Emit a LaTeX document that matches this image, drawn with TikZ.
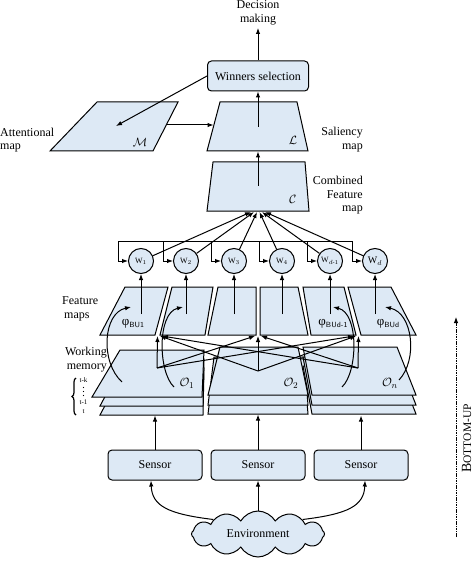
\documentclass[tikz,border=0pt]{standalone}
\usepackage{amsmath}
\usepackage{fontspec}
\setmainfont{Liberation Serif}
\usetikzlibrary{arrows.meta,shapes.symbols,decorations.pathreplacing}
\definecolor{fillblue}{RGB}{221,233,245}
\newcommand{\phisub}[1]{φ\raisebox{-0.35ex}{\textsf{\fontsize{7.5}{8}\selectfont #1}}}
\begin{document}
\begin{tikzpicture}[x=1pt,y=-1pt,
  shp/.style={draw=black,fill=fillblue,line width=1pt,line join=miter},
  arr/.style={-{Latex[length=6pt,width=4.5pt]},line width=1pt},
  ln/.style={line width=1pt},
  lbl/.style={font=\fontsize{12}{13.5}\selectfont,inner sep=0pt},
  rbox/.style={shp,rounded corners=4pt,minimum height=30pt,font=\fontsize{12}{14}\selectfont,inner sep=0pt},
  wc/.style={shp,circle,minimum size=25pt,inner sep=0pt,font=\fontsize{8}{9}\selectfont},
  small/.style={font=\fontsize{7}{8}\selectfont,inner sep=0pt},
]
\useasboundingbox (0,0) rectangle (474,561);

% ---------- top part ----------
\node[rbox,minimum width=101pt] (win) at (258,76) {Winners selection};
\node[lbl,align=center] (dec) at (258,13) {Decision\\making};
\coordinate (dectip) at (258,28);
\draw[arr] (win.north) -- (dectip);

% attentional map
\draw[shp] (97,102) -- (178,102) -- (153,151) -- (50,151) -- cycle;
\node[lbl] (Mlbl) at (140,142) {$\mathcal{M}$};
% saliency map
\draw[shp] (220,102) -- (297,102) -- (308,151) -- (207,151) -- cycle;
\node[lbl] (Llbl) at (293,140) {$\mathcal{L}$};
% combined feature map
\draw[shp] (213,162) -- (305,162) -- (309,211) -- (207,211) -- cycle;
\node[lbl] (Clbl) at (293,199) {$\mathcal{C}$};

\coordinate (Lin) at (258,127);
\draw[arr] (Lin) -- (win.south);
\coordinate (Cin) at (258,186);
\coordinate (Lbot) at (258,151.5);
\draw[arr] (Cin) -- (Lbot);
\coordinate (Mtip) at (116,126);
\draw[arr] (win.west) -- (Mtip);
\coordinate (Mright) at (166,125);
\coordinate (Lleft) at (213.5,125);
\draw[arr] (Mright) -- (Lleft);

\node[lbl,anchor=west,align=left] (attl) at (0,140) {Attentional\\map};
\node[lbl,anchor=east,align=right] (sall) at (363,139.5) {Saliency\\map};
\node[lbl,anchor=east,align=right] (cfl) at (363,195.5) {Combined\\Feature\\map};

% ---------- weights ----------
\node[wc] (w1) at (141,261) {W$_1$};
\node[wc] (w2) at (186,261) {W$_2$};
\node[wc] (w3) at (234,261) {W$_3$};
\node[wc] (w4) at (282,261) {W$_4$};
\node[wc] (w5) at (330,261) {W$_{d\text{-}1}$};
\node[wc,font=\fontsize{10}{11}\selectfont] (w6) at (375,261) {W$_d$};

\foreach \i/\tx in {1/251,2/254,3/257,4/259.5,5/262,6/265}{
  \coordinate (cb\i) at (\tx,212);
  \draw[arr] (w\i) -- (cb\i);
}
\coordinate (h1) at (118,241);
\coordinate (h2) at (163,241);
\coordinate (h3) at (211,241);
\coordinate (h4) at (259,241);
\coordinate (h5) at (307,241);
\coordinate (h6) at (352,241);
\draw[ln] (h1) -- (h6);
\foreach \i in {1,...,6}{
  \draw[arr] (h\i) |- (w\i.west);
}

% ---------- feature maps ----------
\draw[shp] (125,287) -- (168,287) -- (155,335) -- (100,335) -- cycle;
\draw[shp] (172,287) -- (213,287) -- (205,335) -- (160,335) -- cycle;
\draw[shp] (218,287) -- (256,287) -- (256,335) -- (208,335) -- cycle;
\draw[shp] (260,287) -- (298,287) -- (308,335) -- (260,335) -- cycle;
\draw[shp] (303,287) -- (344,287) -- (356,335) -- (311,335) -- cycle;
\draw[shp] (348,287) -- (391,287) -- (416,335) -- (361,335) -- cycle;

\foreach \i/\xx in {1/141,2/186,3/234,4/282,5/330,6/375}{
  \coordinate (f\i) at (\xx,314);
  \draw[arr] (f\i) -- (w\i.south);
}
\node[lbl,font=\fontsize{13}{14}\selectfont] (p1) at (133,324) {\phisub{BU1}};
\node[lbl,font=\fontsize{13}{14}\selectfont] (p5) at (333,324) {\phisub{BUd-1}};
\node[lbl,font=\fontsize{13}{14}\selectfont] (p6) at (388,324) {\phisub{BUd}};
\node[lbl,anchor=west,align=left] (fml) at (62,309) {Feature\\\,maps};

% ---------- working memory ----------
% left stack
\draw[shp] (125,368) -- (204,368) -- (203,415) -- (100,415) -- cycle;
\draw[shp] (125,359) -- (204,359) -- (203,406) -- (100,406) -- cycle;
\draw[shp] (120,350) -- (204,350) -- (202,397) -- (92,397) -- cycle;
% middle stack
\draw[shp] (214,366) -- (304,366) -- (308,414) -- (208,414) -- cycle;
\draw[shp] (214,357) -- (304,357) -- (308,405) -- (208,405) -- cycle;
\draw[shp] (220,347) -- (298,347) -- (308,395) -- (208,395) -- cycle;
% right stack
\draw[shp] (303,366) -- (397,366) -- (416,414) -- (312,414) -- cycle;
\draw[shp] (303,357) -- (397,357) -- (416,405) -- (312,405) -- cycle;
\draw[shp] (303,347) -- (397,347) -- (416,395) -- (312,395) -- cycle;

\node[lbl,font=\fontsize{13}{14}\selectfont] (o1) at (187,383) {$\mathcal{O}_1$};
\node[lbl,font=\fontsize{13}{14}\selectfont] (o2) at (291,383) {$\mathcal{O}_2$};
\node[lbl,font=\fontsize{13}{14}\selectfont] (o3) at (390,383) {$\mathcal{O}_n$};
\node[lbl,anchor=east,align=right] (wml) at (107,359.5) {Working\\memory};

% brace and time labels
\coordinate (brb) at (76,415);
\coordinate (brt) at (76,378);
\draw[line width=1.2pt,decorate,decoration={brace,amplitude=4pt}] (brb) -- (brt);
\node[small] (tk) at (83.5,380.5) {t-k};
\fill (83.5,387.5) circle (0.65pt) (83.5,391.5) circle (0.65pt) (83.5,395.5) circle (0.65pt);
\node[small] (t1) at (83.5,402.5) {t-1};
\node[small] (t0) at (83.5,411.5) {t};

% connections working memory -> feature maps
\coordinate (S1) at (157,368);
\coordinate (S2) at (258,371);
\coordinate (S3) at (358,368);
\coordinate (T1a) at (157.5,336);
\coordinate (T1b) at (160,336);
\coordinate (T1c) at (162,336);
\coordinate (T2a) at (255,336);
\coordinate (T2b) at (258,336);
\coordinate (T2c) at (261,336);
\coordinate (T3a) at (354,336);
\coordinate (T3b) at (356,336);
\coordinate (T3c) at (358.5,336);
\draw[arr] (S1) -- (T1a);
\draw[arr] (S2) -- (T1b);
\draw[arr] (S3) -- (T1c);
\draw[arr] (S1) -- (T2a);
\draw[arr] (S2) -- (T2b);
\draw[arr] (S3) -- (T2c);
\draw[arr] (S1) -- (T3a);
\draw[arr] (S2) -- (T3b);
\draw[arr] (S3) -- (T3c);

% curved arrows
\coordinate (cA0) at (122,382); \coordinate (cA1) at (131,307);
\coordinate (cB0) at (174,387); \coordinate (cB1) at (183,307);
\coordinate (cC0) at (342,387); \coordinate (cC1) at (333,307);
\coordinate (cD0) at (399,380); \coordinate (cD1) at (385,307);
\draw[arr] (cA0) .. controls (100,362) and (103,313) .. (cA1);
\draw[arr] (cB0) .. controls (158,372) and (157,313) .. (cB1);
\draw[arr] (cC0) .. controls (358,372) and (359,313) .. (cC1);
\draw[arr] (cD0) .. controls (418,360) and (413,313) .. (cD1);

% ---------- sensors ----------
\node[rbox,minimum width=94pt] (s1) at (155,465) {Sensor};
\node[rbox,minimum width=94pt] (s2) at (258,465) {Sensor};
\node[rbox,minimum width=94pt] (s3) at (361,465) {Sensor};
\coordinate (m1) at (155,415.5);
\coordinate (m2) at (258,414.5);
\coordinate (m3) at (361,415.5);
\draw[arr] (s1.north) -- (m1);
\draw[arr] (s2.north) -- (m2);
\draw[arr] (s3.north) -- (m3);

% ---------- environment ----------
\node[cloud,shp,cloud puffs=12,cloud puff arc=120,aspect=2.9,minimum width=133pt,minimum height=46pt,inner sep=0pt,font=\fontsize{12}{14}\selectfont] (env) at (258,534) {Environment};
\draw[arr] (env.north) -- (s2.south);
\coordinate (e1) at (151,480.5);
\coordinate (e3) at (365,480.5);
\draw[arr] (env.162) .. controls (168,514) and (152,506) .. (e1);
\draw[arr] (env.18) .. controls (348,514) and (364,506) .. (e3);

% ---------- bottom-up ----------
\coordinate (bu1) at (456,537);
\coordinate (bu2) at (456,317);
\draw[-{Latex[length=6pt,width=4.5pt]},line width=0.9pt,dash pattern=on 1.6pt off 0.8pt] (bu1) -- (bu2);
\node[rotate=90,inner sep=0pt] (bu) at (466.5,438.5) {\fontsize{14}{14}\selectfont B\fontsize{11.5}{12}\selectfont OTTOM-UP};
\end{tikzpicture}
\end{document}
